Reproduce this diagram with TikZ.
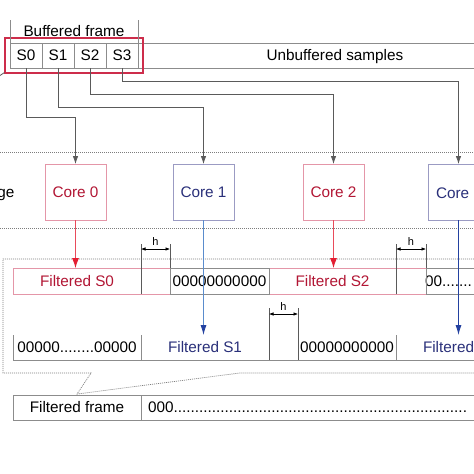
\documentclass[tikz,border=0pt]{standalone}
\usepackage{fontspec}
\setmainfont{Liberation Sans}
\usetikzlibrary{arrows.meta,calc}
\definecolor{boxgray}{RGB}{140,140,140}
\definecolor{edgegray}{RGB}{90,90,90}
\definecolor{framered}{RGB}{205,45,75}
\definecolor{pinkline}{RGB}{228,150,168}
\definecolor{darkred}{RGB}{178,22,52}
\definecolor{arrowred}{RGB}{228,30,50}
\definecolor{navy}{RGB}{42,48,122}
\definecolor{bluegray}{RGB}{155,155,195}
\definecolor{lineblue}{RGB}{90,140,205}
\definecolor{arrowblue}{RGB}{35,65,160}
\definecolor{dotgray}{RGB}{125,125,125}
\begin{document}
\begin{tikzpicture}[x=1pt,y=-1pt,
  font=\fontsize{15.3}{18}\selectfont,
  lbl/.style={inner sep=0pt,outer sep=0pt,text height=1.28em,text depth=0.2em},
  cell/.style={lbl,draw=boxgray,line width=0.8pt,minimum height=25pt},
  rowcell/.style={lbl,minimum height=26pt},
  row2cell/.style={lbl,minimum height=25pt},
  pinkbox/.style={draw=pinkline,line width=0.8pt},
  graybox/.style={draw=boxgray,line width=0.8pt},
  corered/.style={lbl,draw=pinkline,line width=0.8pt,minimum width=61pt,minimum height=56pt,text=darkred},
  coreblue/.style={lbl,draw=bluegray,line width=0.8pt,minimum width=61pt,minimum height=56pt,text=navy},
  conn/.style={draw=edgegray,line width=0.8pt,-{Latex[length=8pt,width=5.5pt]}},
  redarr/.style={draw=arrowred!80!white,line width=0.8pt,-{Latex[length=10pt,width=7pt,color=arrowred]}},
  bluearr/.style={draw=#1,line width=0.8pt,-{Latex[length=10pt,width=6pt,color=arrowblue]}},
  dimline/.style={draw=edgegray,line width=0.8pt},
  harr/.style={draw=black,line width=0.6pt,{Latex[length=4.5pt,width=3.5pt]}-{Latex[length=4.5pt,width=3.5pt]}},
  hlbl/.style={inner sep=0pt,font=\fontsize{11}{13}\selectfont},
  dotline/.style={draw=dotgray,line width=0.7pt,dash pattern=on 1pt off 1pt}
]
\clip (0,0) rectangle (474,474);
\fill[white] (0,0) rectangle (474,474);

% ---- top: buffered / unbuffered samples
\node[cell,minimum width=32pt] (s0) at (26,55.5) {S0};
\node[cell,minimum width=32pt] (s1) at (58,55.5) {S1};
\node[cell,minimum width=32pt] (s2) at (90,55.5) {S2};
\node[cell,minimum width=32pt] (s3) at (122,55.5) {S3};
\node[cell,minimum width=394pt] (unbuf) at (335,55.5) {Unbuffered samples};
\draw[framered,line width=1.5pt] ($(s0.north west)+(-5,-5)$) rectangle ($(s3.south east)+(5,5)$);
\draw[boxgray,line width=0.8pt] (s0.north west) -- ++(0,-23);
\draw[boxgray,line width=0.8pt] (s3.north east) -- ++(0,-23);
\node[lbl] (buflbl) at (74,31) {Buffered frame};

% small hook at the left edge
\draw[edgegray,line width=0.8pt] (0,75.5) .. controls (2,74.8) .. (4.5,72.5);

% ---- stage separators
\draw[dotline] (0,152) -- (474,152);
\draw[dotline] (0,228) -- (474,228);
\node[lbl,anchor=east] (stg) at (14.5,192) {ge};

% ---- cores
\node[corered] (c0) at (75.5,192) {Core 0};
\node[coreblue] (c1) at (203.5,192) {Core 1};
\node[corered] (c2) at (333.5,192) {Core 2};
\node[coreblue] (c3) at (458.5,192) {};
\node[lbl,anchor=west,text=navy] (c3t) at (436,193) {Core};

\draw[conn] (s0.south) -- (s0.south |- 0,117) -| (c0.north);
\draw[conn] (s1.south) -- (s1.south |- 0,107) -| (c1.north);
\draw[conn] (s2.south) -- (s2.south |- 0,94) -| (c2.north);
\draw[conn] (s3.south) -- (s3.south |- 0,81) -| (c3.north);

% ---- filtered output region (dotted callout)
\draw[dotline] (480,259) -- (3,259) -- (3,373) -- (91,373) -- (77,394) -- (240,373) -- (480,373);

% row 1
\node[rowcell,minimum width=128pt,text=darkred] (fs0) at (77,281) {Filtered S0};
\node[rowcell,minimum width=29pt] (ov1) at (155.5,281) {};
\node[rowcell,minimum width=99pt] (z1) at (219.5,281) {00000000000};
\node[rowcell,minimum width=127pt,text=darkred] (fs2) at (332.5,281) {Filtered S2};
\node[rowcell,minimum width=30pt] (ov2) at (411,281) {};
\node[rowcell,minimum width=114pt] (z2) at (483,281) {};
\node[lbl,anchor=west] (z2t) at (425,281) {00.......};
\draw[pinkbox] (fs0.north west) rectangle (ov1.south east);
\draw[pinkbox] (fs2.north west) rectangle (ov2.south east);
\draw[graybox] (z1.north west) rectangle (z1.south east);
\draw[graybox] (z2.north west) rectangle (z2.south east);
\draw[dimline] (fs0.south east) -- (fs0.north east |- 0,244);
\draw[dimline] (ov1.north east) -- (ov1.north east |- 0,244);
\draw[dimline] (fs2.south east) -- (fs2.north east |- 0,244);
\draw[dimline] (ov2.north east) -- (ov2.north east |- 0,244);
\draw[harr] (fs0.north east |- 0,249) -- (ov1.north east |- 0,249);
\draw[harr] (fs2.north east |- 0,249) -- (ov2.north east |- 0,249);
\node[hlbl] (h1) at (155.5,241.5) {h};
\node[hlbl] (h2) at (411,241.5) {h};

% row 2
\node[row2cell,minimum width=128pt] (r2a) at (77,347.5) {00000........00000};
\node[row2cell,minimum width=128pt,text=navy] (fs1) at (205,347.5) {Filtered S1};
\node[row2cell,minimum width=29pt] (ov3) at (283.5,347.5) {};
\node[row2cell,minimum width=98pt] (r2b) at (347,347.5) {00000000000};
\node[row2cell,anchor=west,text=navy] (fs3) at (423,347.5) {Filtered};
\draw[graybox] (r2a.north west) -- (r2a.south west) -- (r2a.south west -| 480,0);
\draw[graybox] (r2a.north east) -- (r2a.south east);
\draw[graybox] (r2b.north east) -- (r2b.south east);
\draw[dimline] (fs1.south east) -- (fs1.north east |- 0,308);
\draw[dimline] (ov3.south east) -- (ov3.north east |- 0,308);
\draw[harr] (fs1.north east |- 0,314) -- (ov3.north east |- 0,314);
\node[hlbl] (h3) at (283.5,306.5) {h};

% core outputs
\draw[redarr] (c0.south) -- (c0.south |- fs0.north);
\draw[redarr] (c2.south) -- (c2.south |- fs2.north);
\draw[bluearr=lineblue] (c1.south) -- (c1.south |- fs1.north);
\draw[bluearr=arrowblue] (c3.south) -- (c3.south |- fs3.north);

% ---- filtered frame
\node[cell,minimum width=128pt] (ff) at (77,407.5) {Filtered frame};
\node[cell,minimum width=399pt] (fz) at (340.5,407.5) {};
\node[lbl,anchor=west] (fzt) at (148,407.5) {000.....................................................................};
\end{tikzpicture}
\end{document}
